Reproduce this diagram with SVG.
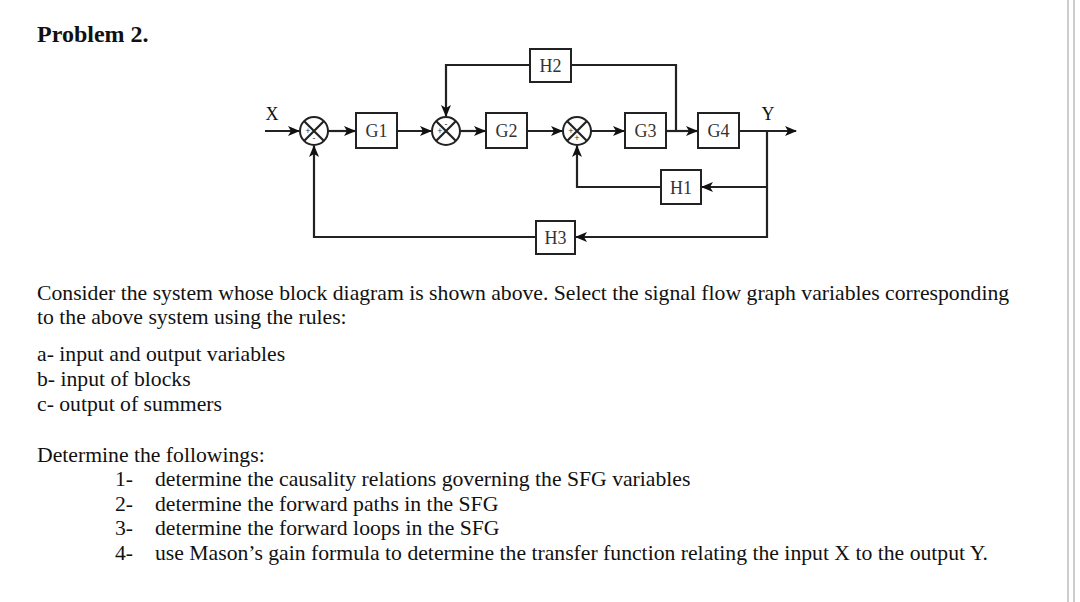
<svg xmlns="http://www.w3.org/2000/svg" width="1080" height="602" viewBox="0 0 1080 602">
<defs><marker id="ar" markerWidth="12" markerHeight="10" refX="11" refY="5" orient="auto" markerUnits="userSpaceOnUse"><path d="M0,0 L12,5 L0,10 L3,5 Z" fill="#111"/></marker></defs>
<style>
.l{stroke:#222;stroke-width:2.2;fill:none}
.b{stroke:#222;stroke-width:2;fill:#fff}
.t{font-family:"Liberation Serif",serif;fill:#111}
.bl{font-family:"Liberation Serif",serif;font-size:18px;fill:#333;text-anchor:middle}
.sg{font-family:"Liberation Sans",sans-serif;font-size:9px;fill:#333;text-anchor:middle}
</style>
<rect width="1080" height="602" fill="#fff"/>
<line x1="1068" y1="0" x2="1068" y2="602" stroke="#bbb" stroke-width="1.5"/>
<line x1="1074" y1="0" x2="1074" y2="602" stroke="#bbb" stroke-width="1.5"/>
<text class="t" x="37" y="42" font-size="24" font-weight="bold">Problem 2.</text>
<g id="connectors">
<line class="l" x1="265" y1="131" x2="299" y2="131" marker-end="url(#ar)"/>
<line class="l" x1="328" y1="131" x2="355" y2="131" marker-end="url(#ar)"/>
<line class="l" x1="397" y1="131" x2="431" y2="131" marker-end="url(#ar)"/>
<line class="l" x1="460" y1="131" x2="485" y2="131" marker-end="url(#ar)"/>
<line class="l" x1="527" y1="131" x2="562" y2="131" marker-end="url(#ar)"/>
<line class="l" x1="591" y1="131" x2="624" y2="131" marker-end="url(#ar)"/>
<line class="l" x1="666" y1="131" x2="697" y2="131" marker-end="url(#ar)"/>
<line class="l" x1="739" y1="131" x2="796" y2="131" marker-end="url(#ar)"/>
<polyline class="l" points="530,65 446,65 446,116" marker-end="url(#ar)"/>
<polyline class="l" points="571,65 676,65 676,131"/>
<polyline class="l" points="767,131 767,237 576,237" marker-end="url(#ar)"/>
<line class="l" x1="767" y1="187" x2="702" y2="187" marker-end="url(#ar)"/>
<polyline class="l" points="660,187 577,187 577,146" marker-end="url(#ar)"/>
<polyline class="l" points="536,237 314,237 314,146" marker-end="url(#ar)"/>
</g>
<text class="t" x="272" y="120" font-size="18" text-anchor="middle">X</text>
<text class="t" x="768" y="120" font-size="18" text-anchor="middle">Y</text>
<g id="s1"><circle class="b" cx="314" cy="131" r="14"/><path class="l" d="M304,121 L324,141 M324,121 L304,141" stroke-width="1.8"/><text class="sg" x="308" y="134">+</text><text class="sg" x="314" y="141">-</text></g>
<g id="s2"><circle class="b" cx="446" cy="131" r="14"/><path class="l" d="M436,121 L456,141 M456,121 L436,141" stroke-width="1.8"/><text class="sg" x="440" y="134">+</text><text class="sg" x="446" y="127">-</text></g>
<g id="s3"><circle class="b" cx="577" cy="131" r="14"/><path class="l" d="M567,121 L587,141 M587,121 L567,141" stroke-width="1.8"/><text class="sg" x="571" y="134">+</text><text class="sg" x="577" y="141">+</text></g>
<g id="G1"><rect class="b" x="356" y="113" width="41" height="35"/><text class="bl" x="376.5" y="137">G1</text></g>
<g id="G2"><rect class="b" x="486" y="113" width="41" height="35"/><text class="bl" x="506.5" y="137">G2</text></g>
<g id="G3"><rect class="b" x="625" y="113" width="41" height="35"/><text class="bl" x="645.5" y="137">G3</text></g>
<g id="G4"><rect class="b" x="698" y="113" width="41" height="35"/><text class="bl" x="718.5" y="137">G4</text></g>
<g id="H2"><rect class="b" x="530" y="49" width="41" height="33"/><text class="bl" x="550.5" y="72">H2</text></g>
<g id="H1"><rect class="b" x="661" y="170" width="40" height="34"/><text class="bl" x="681" y="194">H1</text></g>
<g id="H3"><rect class="b" x="536" y="221" width="39" height="33"/><text class="bl" x="555.5" y="244">H3</text></g>
<g class="t" font-size="21.7">
<text x="37" y="300">Consider the system whose block diagram is shown above. Select the signal flow graph variables corresponding</text>
<text x="37" y="324">to the above system using the rules:</text>
<text x="37" y="361">a- input and output variables</text>
<text x="37" y="386">b- input of blocks</text>
<text x="37" y="411">c- output of summers</text>
<text x="37" y="462">Determine the followings:</text>
<text x="115" y="486">1-</text><text x="155" y="486">determine the causality relations governing the SFG variables</text>
<text x="115" y="511">2-</text><text x="155" y="511">determine the forward paths in the SFG</text>
<text x="115" y="535">3-</text><text x="155" y="535">determine the forward loops in the SFG</text>
<text x="115" y="560">4-</text><text x="155" y="560">use Mason’s gain formula to determine the transfer function relating the input X to the output Y.</text>
</g>
</svg>
